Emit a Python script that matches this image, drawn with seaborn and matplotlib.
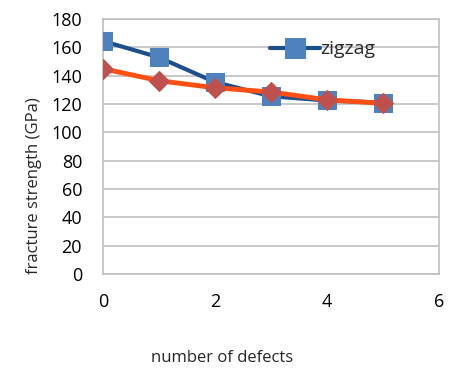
import numpy as np
import pandas as pd
import seaborn as sns
import matplotlib.pyplot as plt

# data
defects = [0, 1, 2, 3, 4, 5]
zigzag = [164.5, 153, 135.5, 125.5, 122.5, 121]
armchair = [145, 136.5, 131.5, 128.5, 123, 120.5]

sns.set_style("white")
plt.rcParams['font.family'] = ['Open Sans', 'DejaVu Sans']

fig = plt.figure(figsize=(4.74, 3.82), dpi=100)
ax = fig.add_axes([0.217, 0.283, 0.709, 0.667])

sns.lineplot(x=defects, y=zigzag, ax=ax, color='#1F4E8C', lw=3,
             marker='s', markersize=12.5, markerfacecolor='#4F81BD',
             markeredgecolor='#4F81BD', label='zigzag', zorder=3)
sns.lineplot(x=defects, y=armchair, ax=ax, color='#FF4F12', lw=3.5,
             marker='D', markersize=10, markerfacecolor='#C0504D',
             markeredgecolor='#C0504D', label='_nolegend_', zorder=4)

ax.set_xlim(0, 6)
ax.set_ylim(0, 180)
ax.set_xticks([0, 2, 4, 6])
ax.set_yticks(range(0, 181, 20))
ax.yaxis.grid(True, color='#BFBFBF', lw=1.2)
for s in ax.spines.values():
    s.set_color('#BFBFBF')
    s.set_linewidth(1.2)
ax.tick_params(axis='both', length=0, labelsize=13, colors='black')
ax.tick_params(axis='x', pad=14)
ax.tick_params(axis='y', pad=15)
ax.set_xlabel('number of defects', fontsize=12)
ax.set_ylabel('fracture strength (GPa)', fontsize=12)
ax.xaxis.set_label_coords(0.354, -0.30)
ax.yaxis.set_label_coords(-0.18, 0.345)

leg = ax.legend(loc='upper left', bbox_to_anchor=(0.445, 0.985), frameon=False,
                fontsize=14, handlelength=2.6, handletextpad=0.0,
                markerscale=1.15)

fig.savefig('out.png', dpi=100)
